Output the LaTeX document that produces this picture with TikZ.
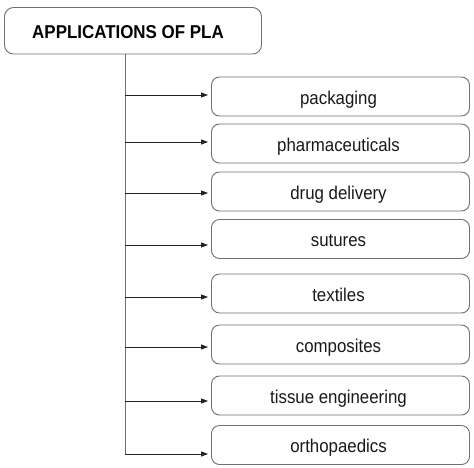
\documentclass[tikz,border=0pt]{standalone}
\usepackage{fontspec}
\setmainfont{Liberation Sans}
\usetikzlibrary{arrows.meta}
\definecolor{boxgray}{HTML}{707070}
\definecolor{linegray}{HTML}{6E6E6E}
\definecolor{arrowcol}{HTML}{222222}
\newcommand{\narrowtxt}[1]{\scalebox{0.91}[1]{#1}}
\begin{document}
\begin{tikzpicture}[x=1pt,y=-1pt,
  itembox/.style={draw=boxgray, line width=0.9pt, rounded corners=8pt,
    minimum width=258pt, minimum height=39pt, inner sep=0pt,
    text height=15pt, text depth=0pt,
    font=\fontsize{18.5}{22}\selectfont, text=black!90},
  titlebox/.style={draw=boxgray, line width=0.9pt, rounded corners=9pt,
    minimum width=257pt, minimum height=46.5pt, inner sep=0pt,
    text height=16pt, text depth=0pt,
    font=\fontsize{18.6}{22}\selectfont\bfseries, text=black},
  trunk/.style={draw=linegray, line width=0.9pt},
  feed/.style={draw=arrowcol, line width=0.9pt, -{Triangle[length=7pt,width=5pt]}, shorten >=3pt}]
\useasboundingbox (0,0) rectangle (474,467);
\fill[white] (0,0) rectangle (474,467);
\node[titlebox] (top) at (133,30.75) {\narrowtxt{APPLICATIONS OF PLA}\hspace*{10pt}};
\node[itembox] (b1) at (340.5,96.5) {\narrowtxt{packaging}\hspace*{4pt}};
\node[itembox] (b2) at (340.5,143.5) {\narrowtxt{pharmaceuticals}\hspace*{4pt}};
\node[itembox] (b3) at (340.5,191.5) {\narrowtxt{drug delivery}\hspace*{4pt}};
\node[itembox] (b4) at (340.5,239) {\narrowtxt{sutures}\hspace*{4pt}};
\node[itembox] (b5) at (340.5,293.5) {\narrowtxt{textiles}\hspace*{4pt}};
\node[itembox] (b6) at (340.5,344.5) {\narrowtxt{composites}\hspace*{4pt}};
\node[itembox] (b7) at (340.5,395.5) {\narrowtxt{tissue engineering}\hspace*{4pt}};
\node[itembox] (b8) at (340.5,445) {\narrowtxt{orthopaedics}\hspace*{4pt}};
\coordinate (a1) at (125,95);
\coordinate (a2) at (125,142);
\coordinate (a3) at (125,193);
\coordinate (a4) at (125,245);
\coordinate (a5) at (125,297);
\coordinate (a6) at (125,347);
\coordinate (a7) at (125,401);
\coordinate (a8) at (125,454);
\draw[trunk] (top.south -| a1) -- (a8);
\foreach \i in {1,...,8} {
  \draw[feed] (a\i) -- (a\i -| b\i.west);
}
\end{tikzpicture}
\end{document}
